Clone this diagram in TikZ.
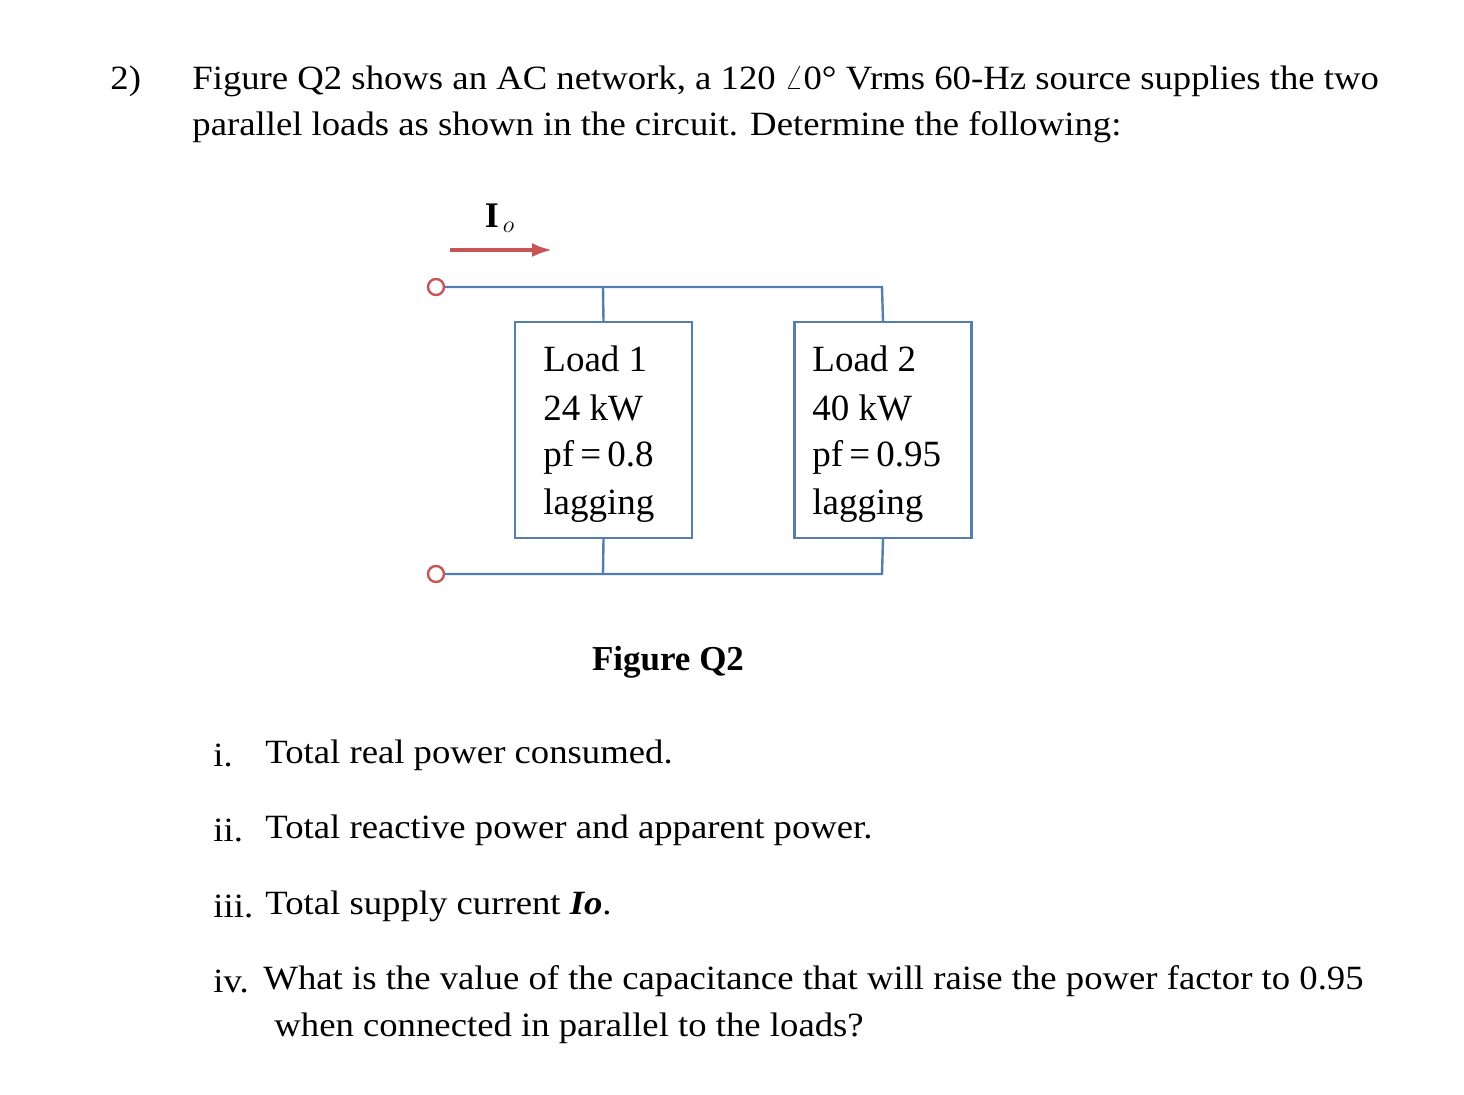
\documentclass[tikz,border=0pt]{standalone}
\usepackage{fontspec}
\setmainfont{Liberation Serif}
\newfontfamily\widef[FakeStretch=1.08]{Liberation Serif}
\usetikzlibrary{arrows.meta}
\definecolor{wire}{RGB}{85,125,175}
\definecolor{term}{RGB}{200,85,85}
\begin{document}
\begin{tikzpicture}[x=0.5pt,y=-0.5pt,
  txt/.style={anchor=west,inner sep=0pt,font=\widef\fontsize{17}{19}\selectfont},
  btxt/.style={anchor=west,inner sep=0pt,font=\fontsize{18.5}{20}\selectfont},
  w/.style={draw=wire,line width=1.2pt},
  load/.style={draw=wire,line width=1.2pt,minimum width=88.5pt,minimum height=108pt,inner sep=0pt}]
\useasboundingbox (0,0) rectangle (1464,1094);
\node[txt] (n2) at (110,81) {2)};
\node[txt] (l1) at (192,81) {Figure Q2 shows an AC network, a 120 $\angle$0° Vrms 60-Hz source supplies the two};
\node[txt] (l2) at (192,127) {parallel loads as shown in the circuit. Determine the following:};
% circuit
\node[load] (L1) at (603.5,430) {};
\node[load] (L2) at (883,430) {};
\node[btxt] at (543,359) {Load 1};
\node[btxt] at (543,408) {24 kW};
\node[btxt] at (543,457) {pf\,=\,0.8};
\node[btxt] at (543,506) {lagging};
\node[btxt] at (812,359) {Load 2};
\node[btxt] at (812,408) {40 kW};
\node[btxt] at (812,457) {pf\,=\,0.95};
\node[btxt] at (812,506) {lagging};
\node[circle,draw=term,line width=1.2pt,minimum size=8pt,inner sep=0pt] (t1) at (436,287) {};
\node[circle,draw=term,line width=1.2pt,minimum size=8pt,inner sep=0pt] (t2) at (436,574) {};
\coordinate (a1) at (603,287); \coordinate (a2) at (882,287);
\coordinate (b1) at (603,574); \coordinate (b2) at (882,574);
\draw[w] (t1) -- (a2) -- (L2.north);
\draw[w] (a1) -- (L1.north);
\draw[w] (t2) -- (b2) -- (L2.south);
\draw[w] (b1) -- (L1.south);
\coordinate (r1) at (450,250); \coordinate (r2) at (552,250);
\draw[term,line width=1.6pt,-{Latex[length=10pt,width=7pt]}] (r1) -- (r2);
\node[inner sep=0pt,font=\fontsize{18}{20}\selectfont] (io) at (500,218) {$\mathbf{I}_{\,o}$};
\node[inner sep=0pt,font=\fontsize{17.5}{19}\selectfont\bfseries] (fq) at (668,662) {Figure Q2};
\node[txt] at (213,755) {i.};
\node[txt] at (265,755) {Total real power consumed.};
\node[txt] at (213,830) {ii.};
\node[txt] at (265,830) {Total reactive power and apparent power.};
\node[txt] at (213,906) {iii.};
\node[txt] at (265,906) {Total supply current \textbf{\textit{Io}}.};
\node[txt] at (213,981) {iv.};
\node[txt] at (263,981) {What is the value of the capacitance that will raise the power factor to 0.95};
\node[txt] at (274,1028) {when connected in parallel to the loads?};
\end{tikzpicture}
\end{document}
